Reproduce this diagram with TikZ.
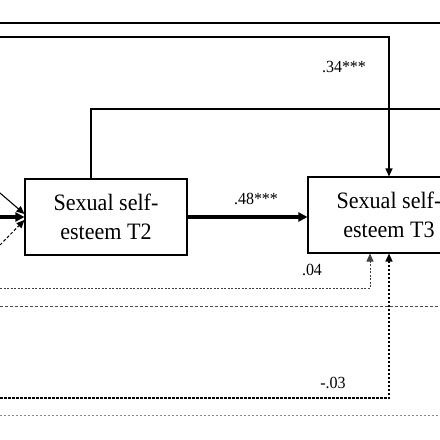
\documentclass[tikz,border=0pt]{standalone}
\usepackage{fontspec}
\setmainfont{Liberation Serif}
\newfontfamily\boxfont[FakeStretch=0.94]{Liberation Serif}
\usetikzlibrary{arrows.meta,calc}
\begin{document}
\begin{tikzpicture}[x=1pt,y=-1pt,
  box/.style={draw, line width=1.1pt, minimum width=162pt, minimum height=76pt, align=center, font=\boxfont\fontsize{23.5}{29}\selectfont, inner sep=0pt},
  lbl/.style={font=\boxfont\fontsize{17}{18}\selectfont, inner sep=0pt},
  pline/.style={line width=1.1pt},
  heavy/.style={line width=3.2pt, -{Triangle[length=9pt,width=9pt]}},
  tip/.style={-{Triangle[length=8pt,width=7pt]}},
  finedot/.style={line width=0.9pt, dash pattern=on 2pt off 1.5pt, black!75},
  bigdot/.style={line width=1.4pt, dash pattern=on 2.5pt off 1.5pt},
  graydash/.style={line width=0.9pt, dash pattern=on 3pt off 2pt, black!70},
  lightdot/.style={line width=0.7pt, dash pattern=on 2pt off 2pt, black!45}
]
\useasboundingbox (0,0) rectangle (440,440);
\fill[white] (0,0) rectangle (440,440);
\clip (0,0) rectangle (440,440);

\node[box] (t2) at (106,217) {Sexual self-\\esteem T2};
\node[box] (t3) at (389,215) {Sexual self-\\esteem T3};

% top lines
\coordinate (top0) at (0,23); \coordinate (top1) at (440,23);
\draw[pline] (top0) -- (top1);
\coordinate (a0) at (0,37);
\draw[pline, tip] (a0) -| (t3.north);
\coordinate (b0) at (440,109); \coordinate (b1) at (91,109);
\draw[pline] (b0) -- (b1) -- (b1 |- t2.north);

% left inputs
\coordinate (l0) at (0,217);
\draw[heavy] (l0) -- (t2.west);
\coordinate (l1) at (0,193);
\draw[pline, tip] (l1) -- ($(t2.west)+(0,-3)$);
\coordinate (l2) at (0,245);
\draw[line width=1pt, dash pattern=on 3pt off 2pt, tip] (l2) -- ($(t2.west)+(0,3)$);

% T2 -> T3
\draw[heavy] (t2.east) -- (t2.east -| t3.west);

% bottom
\coordinate (c0) at (0,288);
\draw[finedot, tip] (c0) -| ($(t3.south)+(-19,0)$);
\coordinate (d0) at (0,306); \coordinate (d1) at (440,306);
\draw[graydash] (d0) -- (d1);
\coordinate (e0) at (0,398);
\draw[bigdot, tip] (e0) -| (t3.south);
\coordinate (f0) at (0,415); \coordinate (f1) at (440,415);
\draw[lightdot] (f0) -- (f1);

% labels
\node[lbl] (p34) at (344,67) {.34***};
\node[lbl] (p48) at (256,199) {.48***};
\node[lbl] (p04) at (312,270) {.04};
\node[lbl] (p03) at (333,383) {-.03};
\end{tikzpicture}
\end{document}
